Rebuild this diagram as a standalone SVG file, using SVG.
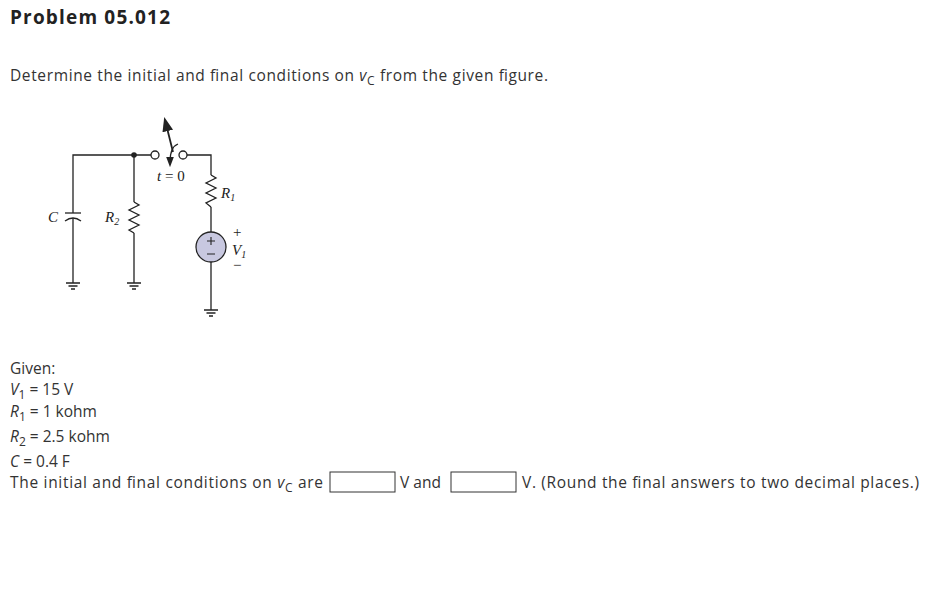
<svg xmlns="http://www.w3.org/2000/svg" width="942" height="612" viewBox="0 0 942 612">
<style>
.t{font-family:"Open Sans",sans-serif;font-size:15.5px;fill:#333}
.c{font-family:"Liberation Serif",serif;font-size:15px;fill:#222}
.i{font-style:italic}
.w{stroke:#222;stroke-width:1.3;fill:none}
.box{fill:#fff;stroke:#333;stroke-width:1}
</style>
<defs>
<marker id="ah" markerWidth="8" markerHeight="8" refX="4" refY="4" orient="auto"><path d="M0,1 L8,4 L0,7 Z" fill="#222"/></marker>
<g id="gnd"><path d="M-7,0 H7 M-4.5,3 H4.5 M-2,6 H2" stroke="#222" stroke-width="1.3"/></g>
</defs>
<rect width="942" height="612" fill="#fff"/>
<text x="10" y="24" font-family="'Open Sans',sans-serif" font-size="19" font-weight="bold" fill="#222" textLength="160">Problem 05.012</text>
<text class="t" x="10" y="81" textLength="538">Determine the initial and final conditions on <tspan class="i">v</tspan><tspan font-size="12" dy="4">C</tspan><tspan dy="-4"> from the given figure.</tspan></text>

<g id="connectors" class="w">
<path d="M73,213 V155 H151"/>
<path d="M73,218 V283"/>
<path d="M134,155 V202 M134,233 V283"/>
<path d="M187,155 H211 V175 M211,207 V232 M211,262 V310"/>
<line x1="173" y1="152" x2="166" y2="124" stroke-width="1.8" marker-end="url(#ah)"/>
<path d="M178,144 Q170,147 170,162" marker-end="url(#ah)"/>
</g>
<g id="C"><path d="M65,213 H81" class="w" stroke-width="1.8"/><path d="M65,221 Q73,215 81,221" class="w" stroke-width="1.8"/>
<text class="c i" x="48" y="222">C</text><use href="#gnd" x="73" y="283"/></g>
<g id="R2"><path d="M134,202 l5,3 l-10,5 l10,5 l-10,5 l10,5 l-10,5 l5,3" class="w"/>
<text class="c i" x="105" y="222">R<tspan font-size="10" dy="3">2</tspan></text><use href="#gnd" x="134" y="283"/>
<circle cx="134" cy="155" r="2.8" fill="#222"/></g>
<g id="SW"><circle cx="155" cy="155" r="4" fill="#fff" stroke="#222" stroke-width="1.3"/><circle cx="183" cy="155" r="4" fill="#fff" stroke="#222" stroke-width="1.3"/>
<text class="c" x="157" y="181"><tspan class="i">t</tspan> = 0</text></g>
<g id="R1"><path d="M211,175 l5,3 l-10,5 l10,5 l-10,5 l10,5 l-10,5 l5,4" class="w"/>
<text class="c i" x="221" y="198">R<tspan font-size="10" dy="3">1</tspan></text></g>
<g id="V1"><circle cx="211" cy="247" r="15" fill="#c8c8e0" stroke="#222" stroke-width="1.3"/>
<path d="M207,241 H215 M211,237 V245 M207,254 H215" stroke="#222" stroke-width="1.1"/>
<text class="c" x="233" y="237" font-size="13">+</text><text class="c i" x="232" y="255">V<tspan font-size="10" dy="3">1</tspan></text><text class="c" x="233" y="270" font-size="13">−</text>
<use href="#gnd" x="211" y="310"/></g>

<text class="t" x="10" y="374">Given:</text>
<text class="t" x="10" y="395"><tspan class="i">V</tspan><tspan font-size="12" dy="4">1</tspan><tspan dy="-4"> = 15 V</tspan></text>
<text class="t" x="10" y="417"><tspan class="i">R</tspan><tspan font-size="12" dy="4">1</tspan><tspan dy="-4"> = 1 kohm</tspan></text>
<text class="t" x="10" y="442"><tspan class="i">R</tspan><tspan font-size="12" dy="4">2</tspan><tspan dy="-4"> = 2.5 kohm</tspan></text>
<text class="t" x="10" y="467"><tspan class="i">C</tspan> = 0.4 F</text>
<text class="t" x="10" y="488" textLength="313">The initial and final conditions on <tspan class="i">v</tspan><tspan font-size="12" dy="4">C</tspan><tspan dy="-4"> are</tspan></text>
<rect class="box" x="330" y="472" width="65" height="20"/>
<text class="t" x="400" y="488">V and</text>
<rect class="box" x="451" y="472" width="65" height="20"/>
<text class="t" x="522" y="488" textLength="397">V. (Round the final answers to two decimal places.)</text>
</svg>
